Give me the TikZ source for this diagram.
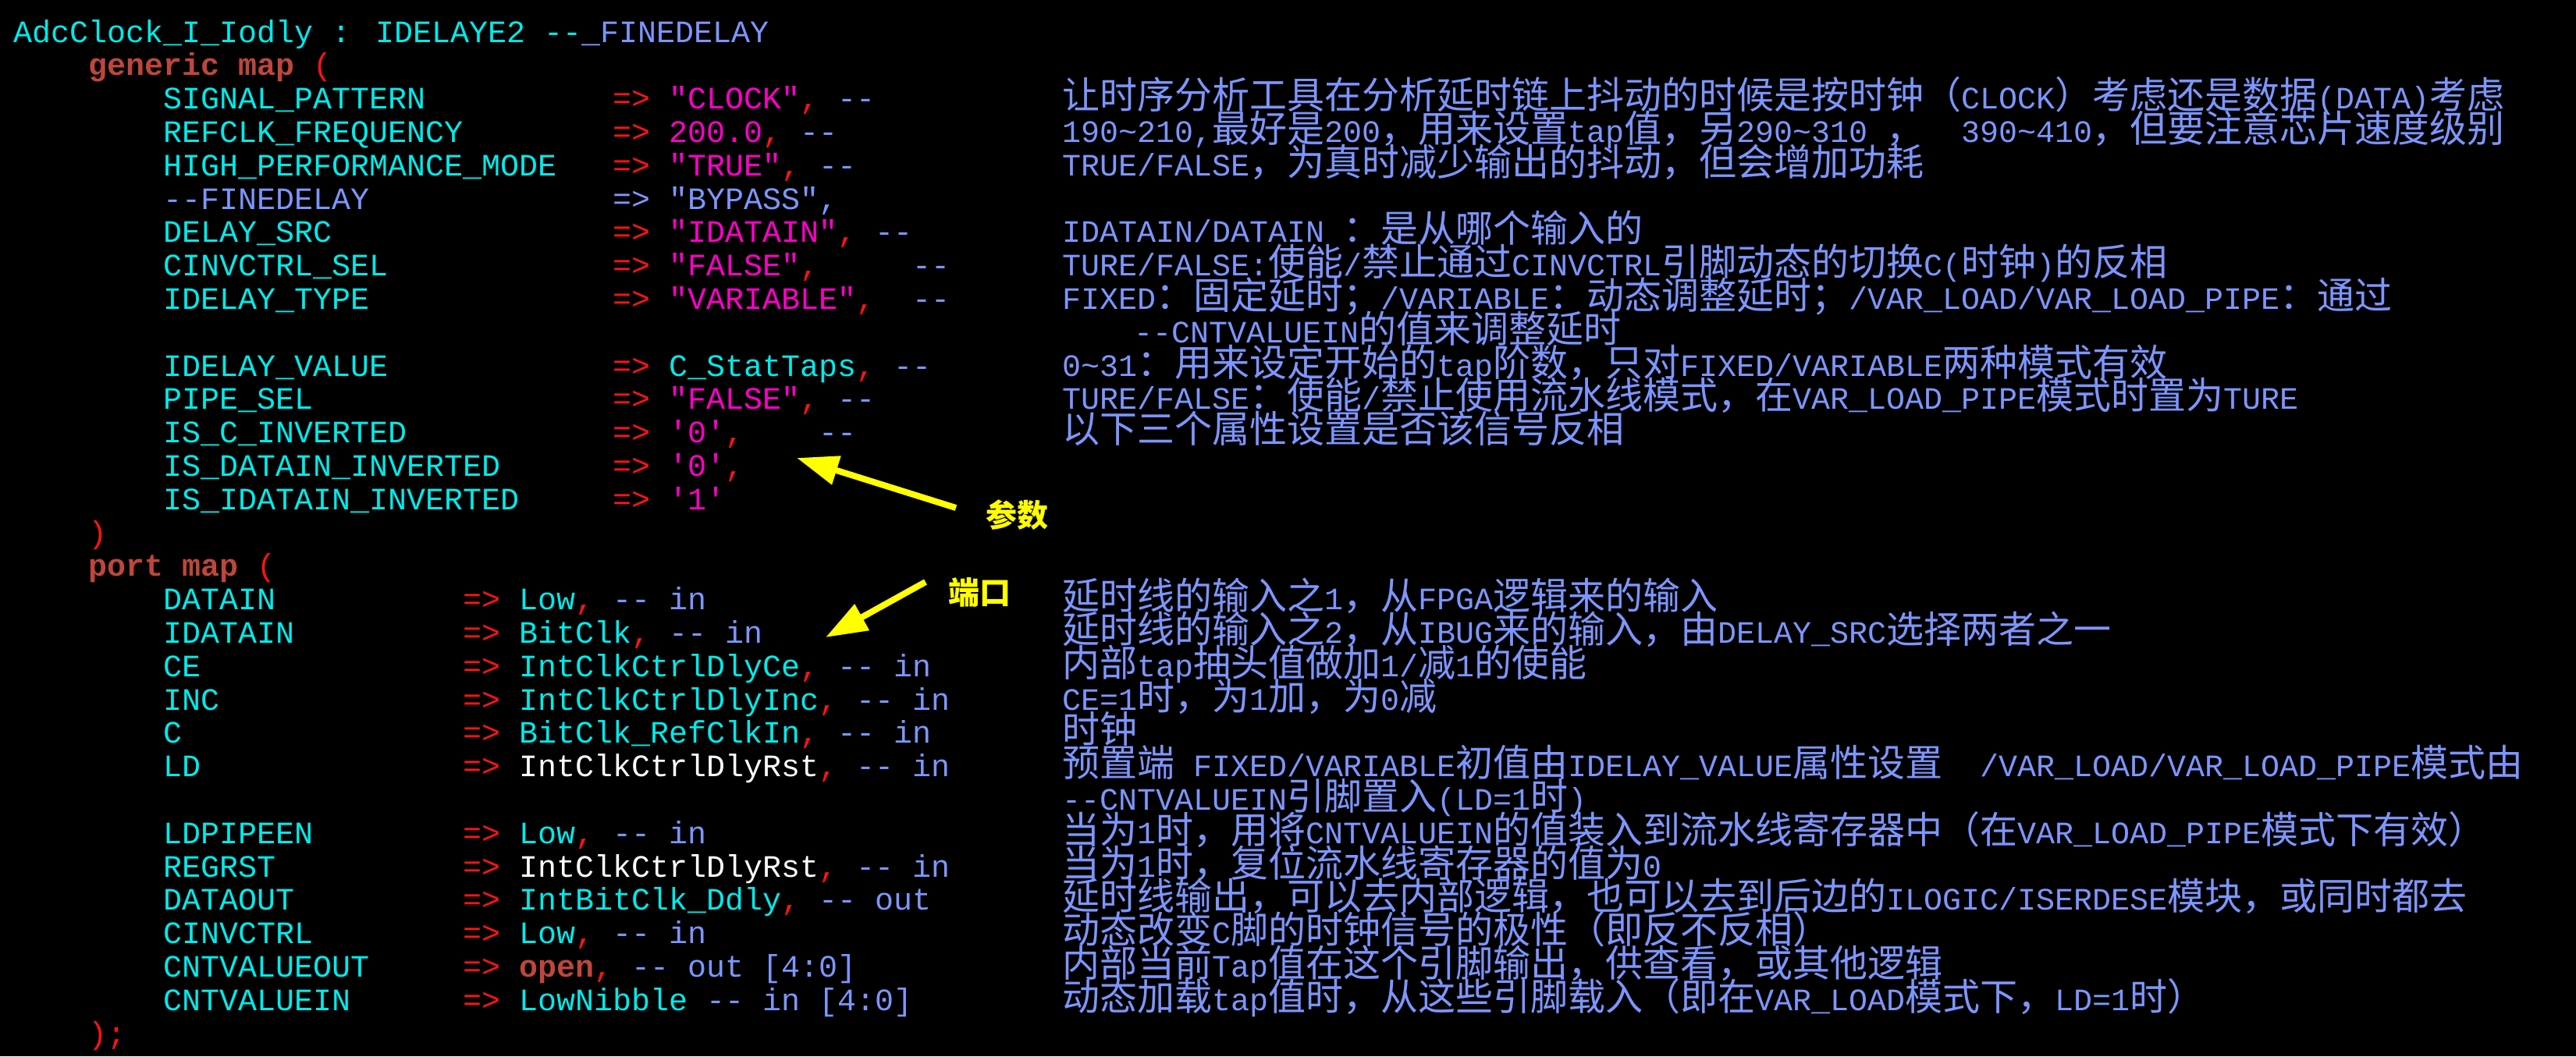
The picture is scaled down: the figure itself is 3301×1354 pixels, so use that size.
\documentclass[tikz,border=0pt]{standalone}
\usepackage{fontspec}
\usetikzlibrary{arrows.meta}
\newfontfamily\code{Liberation Mono}
\newfontfamily\cjk[Scale=1.2]{Noto Sans CJK SC}
\definecolor{cy}{RGB}{0,235,235}
\definecolor{rd}{RGB}{255,20,20}
\definecolor{mg}{RGB}{255,0,200}
\definecolor{br}{RGB}{190,70,60}
\definecolor{bl}{RGB}{125,150,255}
\definecolor{yl}{RGB}{255,255,0}
\XeTeXinterchartokenstate=1
\newXeTeXintercharclass\CJKcls
\count255="3000
\loop \XeTeXcharclass\count255=\CJKcls \advance\count255 by 1 \ifnum\count255<"A000 \repeat
\count255="FF00
\loop \XeTeXcharclass\count255=\CJKcls \advance\count255 by 1 \ifnum\count255<"FFF0 \repeat
\XeTeXinterchartoks 0 \CJKcls = {\cjk}
\XeTeXinterchartoks 4095 \CJKcls = {\cjk}
\XeTeXinterchartoks \CJKcls 0 = {\code}
\XeTeXinterchartoks \CJKcls 4095 = {\code}
\newcommand\C[1]{\textcolor{cy}{#1}}
\newcommand\R[1]{\textcolor{rd}{#1}}
\newcommand\M[1]{\textcolor{mg}{#1}}
\newcommand\B[1]{\textcolor{bl}{#1}}
\newcommand\W[1]{\textcolor{white}{#1}}
\newcommand\N[1]{\textcolor{br}{\bfseries #1}}
\newcommand\T[4]{\node[txt] (#1) at ({#2},{54+42.8*#3}) {#4};}
\newcommand\Cm[4]{\node[cmt] (#1) at ({#2},{54+42.8*#3}) {#4};}
\newcommand\Q{\textasciitilde}
\begin{document}
\begin{tikzpicture}[x=0.3pt,y=-0.3pt,
  txt/.style={anchor=base west,inner sep=0pt,font=\code\fontsize{12}{12}\selectfont},
  cmt/.style={anchor=base west,inner sep=0pt,font=\code\fontsize{12}{12}\selectfont,text=bl},
  ann/.style={inner sep=0pt,text=yl,font=\cjk\fontsize{10}{10}\selectfont\bfseries},
  arr/.style={draw=yl,fill=yl,line width=2.4pt,-{Triangle[length=16pt,width=11pt]}}]
\fill[black] (0,0) rectangle (3301,1354);
% header
\T{h0}{17}{0}{\C{AdcClock\_I\_Iodly : IDELAYE2 --}\B{\_FINEDELAY}}
\T{g0}{113}{1}{\N{generic map} \R{(}}
% generic names
\T{n2}{209}{2}{\C{SIGNAL\_PATTERN}}
\T{n3}{209}{3}{\C{REFCLK\_FREQUENCY}}
\T{n4}{209}{4}{\C{HIGH\_PERFORMANCE\_MODE}}
\T{n5}{209}{5}{\B{--FINEDELAY}}
\T{n6}{209}{6}{\C{DELAY\_SRC}}
\T{n7}{209}{7}{\C{CINVCTRL\_SEL}}
\T{n8}{209}{8}{\C{IDELAY\_TYPE}}
\T{n10}{209}{10}{\C{IDELAY\_VALUE}}
\T{n11}{209}{11}{\C{PIPE\_SEL}}
\T{n12}{209}{12}{\C{IS\_C\_INVERTED}}
\T{n13}{209}{13}{\C{IS\_DATAIN\_INVERTED}}
\T{n14}{209}{14}{\C{IS\_IDATAIN\_INVERTED}}
% arrows =>
\foreach \k in {2,3,4,6,7,8,10,11,12,13,14} {\T{e\k}{785}{\k}{\R{=>}}}
\T{e5}{785}{5}{\B{=>}}
% values
\T{v2}{857}{2}{\M{"CLOCK"}\R{,} \B{--}}
\T{v3}{857}{3}{\M{200.0}\R{,} \B{--}}
\T{v4}{857}{4}{\M{"TRUE"}\R{,} \B{--}}
\T{v5}{857}{5}{\B{"BYPASS",}}
\T{v6}{857}{6}{\M{"IDATAIN"}\R{,} \B{--}}
\T{v7}{857}{7}{\M{"FALSE"}\R{,}~~~~~\B{--}}
\T{v8}{857}{8}{\M{"VARIABLE"}\R{,}~~\B{--}}
\T{v10}{857}{10}{\C{C\_StatTaps}\R{,} \B{--}}
\T{v11}{857}{11}{\M{"FALSE"}\R{,} \B{--}}
\T{v12}{857}{12}{\M{'0'}\R{,}~~~~\B{--}}
\T{v13}{857}{13}{\M{'0'}\R{,}}
\T{v14}{857}{14}{\M{'1'}}
\T{g1}{113}{15}{\R{)}}
% port map
\T{p0}{113}{16}{\N{port map} \R{(}}
\T{q17}{209}{17}{\C{DATAIN}}
\T{q18}{209}{18}{\C{IDATAIN}}
\T{q19}{209}{19}{\C{CE}}
\T{q20}{209}{20}{\C{INC}}
\T{q21}{209}{21}{\C{C}}
\T{q22}{209}{22}{\C{LD}}
\T{q24}{209}{24}{\C{LDPIPEEN}}
\T{q25}{209}{25}{\C{REGRST}}
\T{q26}{209}{26}{\C{DATAOUT}}
\T{q27}{209}{27}{\C{CINVCTRL}}
\T{q28}{209}{28}{\C{CNTVALUEOUT}}
\T{q29}{209}{29}{\C{CNTVALUEIN}}
\foreach \k in {17,18,19,20,21,22,24,25,26,27,28,29} {\T{f\k}{593}{\k}{\R{=>}}}
\T{w17}{665}{17}{\C{Low}\R{,} \B{-- in}}
\T{w18}{665}{18}{\C{BitClk}\R{,} \B{-- in}}
\T{w19}{665}{19}{\C{IntClkCtrlDlyCe}\R{,} \B{-- in}}
\T{w20}{665}{20}{\C{IntClkCtrlDlyInc}\R{,} \B{-- in}}
\T{w21}{665}{21}{\C{BitClk\_RefClkIn}\R{,} \B{-- in}}
\T{w22}{665}{22}{\W{IntClkCtrlDlyRst}\R{,} \B{-- in}}
\T{w24}{665}{24}{\C{Low}\R{,} \B{-- in}}
\T{w25}{665}{25}{\W{IntClkCtrlDlyRst}\R{,} \B{-- in}}
\T{w26}{665}{26}{\C{IntBitClk\_Ddly}\R{,} \B{-- out}}
\T{w27}{665}{27}{\C{Low}\R{,} \B{-- in}}
\T{w28}{665}{28}{\N{open}\R{,} \B{-- out [4:0]}}
\T{w29}{665}{29}{\C{LowNibble} \B{-- in [4:0]}}
\T{p1}{113}{30}{\R{);}}
% comments
\Cm{c2}{1361}{2}{让时序分析工具在分析延时链上抖动的时候是按时钟（CLOCK）考虑还是数据(DATA)考虑}
\Cm{c3}{1361}{3}{190\Q210,最好是200，用来设置tap值，另290\Q310 ，~~390\Q410，但要注意芯片速度级别}
\Cm{c4}{1361}{4}{TRUE/FALSE，为真时减少输出的抖动，但会增加功耗}
\Cm{c6}{1361}{6}{IDATAIN/DATAIN ：是从哪个输入的}
\Cm{c7}{1361}{7}{TURE/FALSE:使能/禁止通过CINVCTRL引脚动态的切换C(时钟)的反相}
\Cm{c8}{1361}{8}{FIXED：固定延时；/VARIABLE：动态调整延时；/VAR\_LOAD/VAR\_LOAD\_PIPE：通过}
\Cm{c9}{1453}{9}{--CNTVALUEIN的值来调整延时}
\Cm{c10}{1361}{10}{0\Q31：用来设定开始的tap阶数，只对FIXED/VARIABLE两种模式有效}
\Cm{c11}{1361}{11}{TURE/FALSE：使能/禁止使用流水线模式，在VAR\_LOAD\_PIPE模式时置为TURE}
\Cm{c12}{1361}{12}{以下三个属性设置是否该信号反相}
\Cm{c17}{1361}{17}{延时线的输入之1，从FPGA逻辑来的输入}
\Cm{c18}{1361}{18}{延时线的输入之2，从IBUG来的输入，由DELAY\_SRC选择两者之一}
\Cm{c19}{1361}{19}{内部tap抽头值做加1/减1的使能}
\Cm{c20}{1361}{20}{CE=1时，为1加，为0减}
\Cm{c21}{1361}{21}{时钟}
\Cm{c22}{1361}{22}{预置端 FIXED/VARIABLE初值由IDELAY\_VALUE属性设置~~/VAR\_LOAD/VAR\_LOAD\_PIPE模式由}
\Cm{c23}{1361}{23}{--CNTVALUEIN引脚置入(LD=1时)}
\Cm{c24}{1361}{24}{当为1时，用将CNTVALUEIN的值装入到流水线寄存器中（在VAR\_LOAD\_PIPE模式下有效）}
\Cm{c25}{1361}{25}{当为1时，复位流水线寄存器的值为0}
\Cm{c26}{1361}{26}{延时线输出，可以去内部逻辑，也可以去到后边的ILOGIC/ISERDESE模块，或同时都去}
\Cm{c27}{1361}{27}{动态改变C脚的时钟信号的极性（即反不反相）}
\Cm{c28}{1361}{28}{内部当前Tap值在这个引脚输出，供查看，或其他逻辑}
\Cm{c29}{1361}{29}{动态加载tap值时，从这些引脚载入（即在VAR\_LOAD模式下，LD=1时）}
% annotations
\node[ann] (canshu) at (1303,660) {参数};
\node[ann] (duankou) at (1255,759) {端口};
\coordinate (a1t) at (1225,651);
\coordinate (a1h) at (1021,587);
\coordinate (a2t) at (1186,746);
\coordinate (a2h) at (1058,817);
\draw[arr] (a1t) -- (a1h);
\draw[arr] (a2t) -- (a2h);
\end{tikzpicture}
\end{document}
